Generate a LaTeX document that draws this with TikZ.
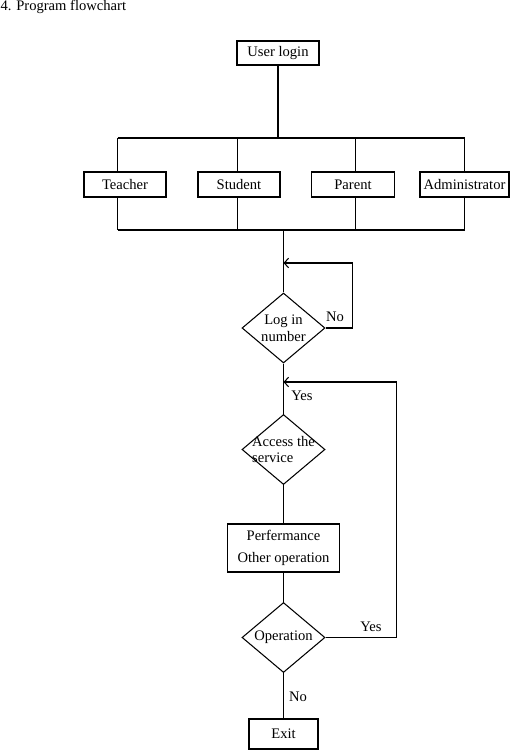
\documentclass[tikz,border=0pt]{standalone}
\usepackage{fontspec}
\setmainfont{Liberation Serif}
\usetikzlibrary{arrows.meta,shapes.geometric}

\begin{document}
\begin{tikzpicture}[line width=0.6pt,
	every node/.style={font=\fontsize{8.3}{9.5}\selectfont},
	box/.style={draw,rectangle,minimum width=1.64cm,minimum height=0.48cm,inner sep=1pt},
	decide/.style={draw,diamond,minimum width=1.66cm,minimum height=1.40cm,inner sep=-4pt},
	back/.style={-{Straight Barb[length=2.5pt,width=5.5pt]}}]
	\useasboundingbox (0,0) rectangle (10.2,-15);
	\node (title) at (0,-0.2)[anchor=base west,inner sep=0pt] {4. Program flowchart};
	% users
	\node (login) at (5.56,-1.06)[box] {User login};
	\node (teacher) at (2.50,-3.69)[box,minimum height=0.5cm] {Teacher};
	\node (student) at (4.78,-3.69)[box,minimum height=0.5cm] {Student};
	\node (parent) at (7.06,-3.69)[box,minimum height=0.5cm,minimum width=1.66cm] {Parent};
	\node (admin) at (9.29,-3.69)[box,minimum height=0.5cm,minimum width=1.78cm] {Administrator};
	\coordinate (bust) at (5.56,-2.76);
	\coordinate (busb) at (5.67,-4.60);
	\draw (login) -- (bust);
	\foreach \n/\dx in {teacher/-0.15,student/-0.03,parent/0.05,admin/0}
	{
		\draw ([xshift=\dx cm]\n.north) -- ([xshift=\dx cm]\n.north |- bust);
		\draw ([xshift=\dx cm]\n.south) -- ([xshift=\dx cm]\n.south |- busb);
	}
	\draw ([xshift=-0.15cm]teacher.north |- bust) -- (admin.north |- bust);
	\draw ([xshift=-0.15cm]teacher.south |- busb) -- (admin.south |- busb);
	% main flow
	\node (logno) at (5.67,-6.56)[decide,align=center] {Log in\\number};
	\node (access) at (5.67,-8.99)[decide,align=left] {Access the\\service};
	\node (perf) at (5.67,-10.96)[box,minimum width=2.24cm,minimum height=0.96cm,align=center] {Perfermance\\[3pt]Other operation};
	\node (oper) at (5.67,-12.75)[decide] {Operation};
	\node (exit) at (5.67,-14.68)[box,minimum width=1.38cm,minimum height=0.6cm] {Exit};
	\draw (busb) -- (logno) -- (access) -- (perf) -- (oper) -- (exit);
	% loops
	\coordinate (noret) at (5.67,-5.26);
	\coordinate (yesret) at (5.67,-7.64);
	\draw[back] (logno.east) -- ++(0.54,0) |- (noret);
	\draw[back] (oper.east) -- ++(1.42,0) |- (yesret);
	\node (no1) at (6.70,-6.34) {No};
	\node (yes1) at (6.04,-7.92) {Yes};
	\node (yes2) at (7.42,-12.54) {Yes};
	\node (no2) at (5.96,-13.94) {No};
\end{tikzpicture}
\end{document}
